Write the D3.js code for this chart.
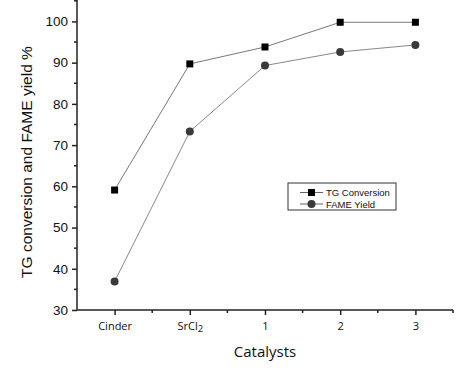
<!DOCTYPE html>
<html>
<head>
<meta charset="utf-8">
<script src="https://cdn.jsdelivr.net/npm/d3@7"></script>
<style>
  body { margin: 0; background: #fff; }
  svg { display: block; }
  .axis path, .axis line { stroke: #222; stroke-width: 1.5; }
  .y.axis text { font-family: "Liberation Sans", Arial, sans-serif; font-size: 13.5px; fill: #111; }
  .x.axis text { font-family: "Open Sans", "Liberation Sans", sans-serif; font-size: 11px; fill: #111; }
</style>
</head>
<body>
<div id="chart"></div>
<script>
var categories = ["Cinder", "SrCl2", "1", "2", "3"];
var tgConversion = [59.1, 89.7, 93.8, 99.8, 99.8];
var fameYield = [36.9, 73.3, 89.3, 92.6, 94.3];
var yTicks = [30, 40, 50, 60, 70, 80, 90, 100];
var yMinorTicks = [35, 45, 55, 65, 75, 85, 95, 105];

var width = 474, height = 370;
var margins = { top: 0, right: 21, bottom: 60, left: 77 };
var chartWidth = width - margins.left - margins.right;
var chartHeight = height - margins.top - margins.bottom;

var svg = d3.select("#chart").append("svg")
  .attr("width", width)
  .attr("height", height);

var chart = svg.append("g")
  .attr("transform", `translate(${margins.left},${margins.top})`);

var xScale = d3.scalePoint()
  .domain(categories)
  .range([0, chartWidth])
  .padding(0.5);

var yScale = d3.scaleLinear()
  .domain([30, 105.2])
  .range([chartHeight, 0]);

// minor ticks, x halfway between categories
var step = xScale.step();
var xMinor = categories.slice(0, -1).map(c => xScale(c) + step / 2);

// axes
var yAxis = d3.axisLeft(yScale).tickValues(yTicks).tickSize(5).tickPadding(4).tickSizeOuter(0);
var yg = chart.append("g").attr("class", "y axis").call(yAxis);
yg.select(".domain").attr("d", `M0,${chartHeight}V0`);

yg.selectAll(".minor")
  .data(yMinorTicks.filter(v => yScale(v) >= 0))
  .enter().append("line")
  .attr("class", "minor")
  .attr("x1", -3).attr("x2", 0)
  .attr("y1", d => yScale(d)).attr("y2", d => yScale(d));

var xAxis = d3.axisBottom(xScale).tickSize(5).tickPadding(7).tickSizeOuter(0)
  .tickFormat(d => d === "SrCl2" ? "" : d);
var xg = chart.append("g").attr("class", "x axis")
  .attr("transform", `translate(0,${chartHeight})`)
  .call(xAxis);
xg.select(".domain").attr("d", `M0,0H${chartWidth}`);

// SrCl2 with subscript
xg.selectAll(".tick")
  .filter(d => d === "SrCl2")
  .select("text")
  .html('SrCl<tspan font-size="9.5px" dy="2">2</tspan>');

xg.selectAll(".minor")
  .data(xMinor.concat([chartWidth]))
  .enter().append("line")
  .attr("class", "minor")
  .attr("x1", d => d).attr("x2", d => d)
  .attr("y1", 0).attr("y2", 3);

// lines
var line = d3.line()
  .x((d, i) => xScale(categories[i]))
  .y(d => yScale(d));

chart.append("path")
  .attr("d", line(tgConversion))
  .attr("fill", "none")
  .attr("stroke", "#777")
  .attr("stroke-width", 1);

chart.append("path")
  .attr("d", line(fameYield))
  .attr("fill", "none")
  .attr("stroke", "#888")
  .attr("stroke-width", 1);

// markers
chart.append("g")
  .selectAll("rect")
  .data(tgConversion)
  .enter().append("rect")
  .attr("x", (d, i) => xScale(categories[i]) - 3.5)
  .attr("y", d => yScale(d) - 3.5)
  .attr("width", 7)
  .attr("height", 7)
  .attr("fill", "#000");

chart.append("g")
  .selectAll("circle")
  .data(fameYield)
  .enter().append("circle")
  .attr("cx", (d, i) => xScale(categories[i]))
  .attr("cy", d => yScale(d))
  .attr("r", 4)
  .attr("fill", "#3a3a3a");

// legend
var legend = svg.append("g").attr("transform", "translate(288,183)");
legend.append("rect")
  .attr("width", 108).attr("height", 27)
  .attr("fill", "#fff").attr("stroke", "#333").attr("stroke-width", 1);

var legendItems = [
  { name: "TG Conversion", shape: "square", y: 9.5 },
  { name: "FAME Yield", shape: "circle", y: 21 }
];
legendItems.forEach(function(item) {
  var g = legend.append("g").attr("transform", `translate(0,${item.y})`);
  g.append("line").attr("x1", 12).attr("x2", 35).attr("y1", 0).attr("y2", 0)
    .attr("stroke", "#666").attr("stroke-width", 1);
  if (item.shape === "square") {
    g.append("rect").attr("x", 20).attr("y", -3.5).attr("width", 7).attr("height", 7).attr("fill", "#000");
  } else {
    g.append("circle").attr("cx", 23.5).attr("cy", 0).attr("r", 4).attr("fill", "#3a3a3a");
  }
  g.append("text").attr("x", 38).attr("y", 3.5)
    .style("font-family", "Liberation Sans, Arial, sans-serif")
    .style("font-size", "9.5px")
    .attr("fill", "#111")
    .text(item.name);
});

// axis titles
svg.append("text")
  .attr("transform", `translate(32,162) rotate(-90)`)
  .attr("text-anchor", "middle")
  .style("font-family", "Liberation Sans, Arial, sans-serif")
  .style("font-size", "15.5px")
  .attr("fill", "#111")
  .text("TG conversion and FAME yield %");

svg.append("text")
  .attr("x", margins.left + xScale("1"))
  .attr("y", 357)
  .attr("text-anchor", "middle")
  .style("font-family", "Open Sans, Liberation Sans, sans-serif")
  .style("font-size", "15px")
  .attr("fill", "#111")
  .text("Catalysts");
</script>
</body>
</html>
